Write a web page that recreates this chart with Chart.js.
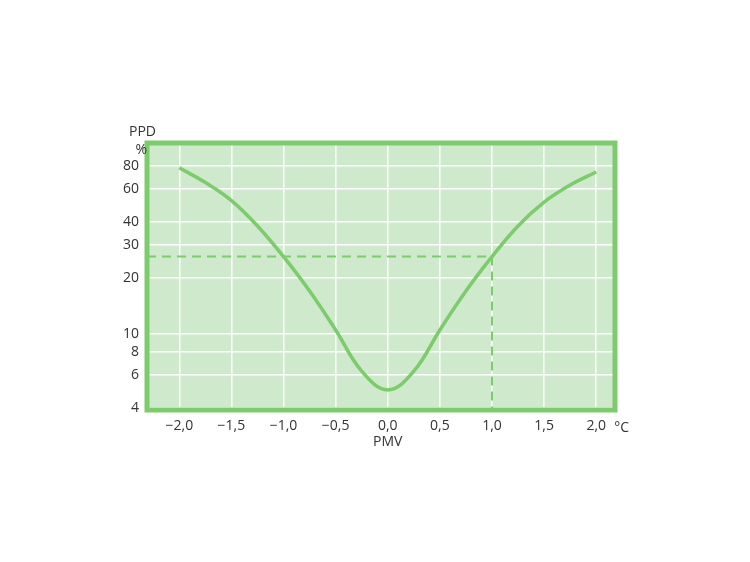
<!DOCTYPE html>
<html><head><meta charset="utf-8">
<script src="https://cdn.jsdelivr.net/npm/chart.js@4"></script>
<style>html,body{margin:0;background:#fff}#wrap{width:750px;height:562px}</style>
</head><body><div id="wrap"><canvas id="c"></canvas></div>
<script>
const pmv = [-2, -1.75, -1.5, -1.25, -1, -0.75, -0.5, -0.25, 0, 0.25, 0.5, 0.75, 1, 1.25, 1.5, 1.75, 2];
const ppd = [78, 65, 52, 38, 26, 17, 10.5, 6.3, 5, 6.3, 10.5, 17, 26, 38, 51, 63, 74];
const xTicks = [-2, -1.5, -1, -0.5, 0, 0.5, 1, 1.5, 2];
const yTicks = [4, 6, 8, 10, 20, 30, 40, 60, 80];
const refPPD = 26, refPMV = 1;
const X_MIN = -2.31, X_MAX = 2.18, Y_MIN = 3.9, Y_MAX = 106;

const green = '#7ccb6c', fill = '#cfe9cc', txt = '#333';
const fmt = v => (v < 0 ? '\u2212' : '') + Math.abs(v).toFixed(1).replace('.', ',');

const frame = {
    id: 'frame',
    beforeDraw(ch) {
        const a = ch.chartArea, c = ch.ctx;
        c.save(); c.fillStyle = fill; c.fillRect(a.left, a.top, a.width, a.height); c.restore();
    },
    afterDraw(ch) {
        const a = ch.chartArea, c = ch.ctx;
        c.save();
        c.strokeStyle = green; c.lineWidth = 5;
        c.strokeRect(a.left, a.top, a.width, a.height);
        c.fillStyle = txt; c.font = '14px "Open Sans", sans-serif';
        c.textAlign = 'right'; c.textBaseline = 'middle';
        c.fillText('PPD', a.left + 9, a.top - 11);
        c.fillText('%', a.left - 0, a.top + 7);
        c.textAlign = 'center';
        c.fillText('PMV', ch.scales.x.getPixelForValue(0), a.bottom + 32);
        c.textAlign = 'left';
        c.fillText('\u00b0C', ch.scales.x.getPixelForValue(2) + 18, a.bottom + 18);
        c.restore();
    }
};

new Chart(document.getElementById('c'), {
    type: 'scatter',
    data: {
        datasets: [
            { data: pmv.map((x, i) => ({ x, y: ppd[i] })), showLine: true, borderColor: green, borderWidth: 3.5, pointRadius: 0, tension: 0.4 },
            { data: [{ x: X_MIN, y: refPPD }, { x: refPMV, y: refPPD }, { x: refPMV, y: Y_MIN }], showLine: true, borderColor: green, borderWidth: 2, borderDash: [9, 6], pointRadius: 0, tension: 0 }
        ]
    },
    options: {
        responsive: true, maintainAspectRatio: false, animation: false,
        layout: { padding: { left: 107, top: 143, right: 135, bottom: 112 } },
        plugins: { legend: { display: false }, tooltip: { enabled: false } },
        scales: {
            x: {
                type: 'linear', min: X_MIN, max: X_MAX,
                afterBuildTicks: s => { s.ticks = xTicks.map(v => ({ value: v })); },
                afterFit: s => { s.height = 40; },
                grid: { color: '#fff', lineWidth: 1.5, drawTicks: false },
                border: { display: false },
                ticks: { color: txt, padding: 8, font: { size: 14, family: '"Open Sans", sans-serif' }, callback: v => fmt(v) }
            },
            y: {
                type: 'logarithmic', min: Y_MIN, max: Y_MAX,
                afterBuildTicks: s => { s.ticks = yTicks.map(v => ({ value: v })); },
                afterFit: s => { s.width = 40; },
                grid: { color: '#fff', lineWidth: 1.5, drawTicks: false },
                border: { display: false },
                ticks: { color: txt, padding: 8, font: { size: 14, family: '"Open Sans", sans-serif' }, callback: v => String(v) }
            }
        }
    },
    plugins: [frame]
});
</script></body></html>
